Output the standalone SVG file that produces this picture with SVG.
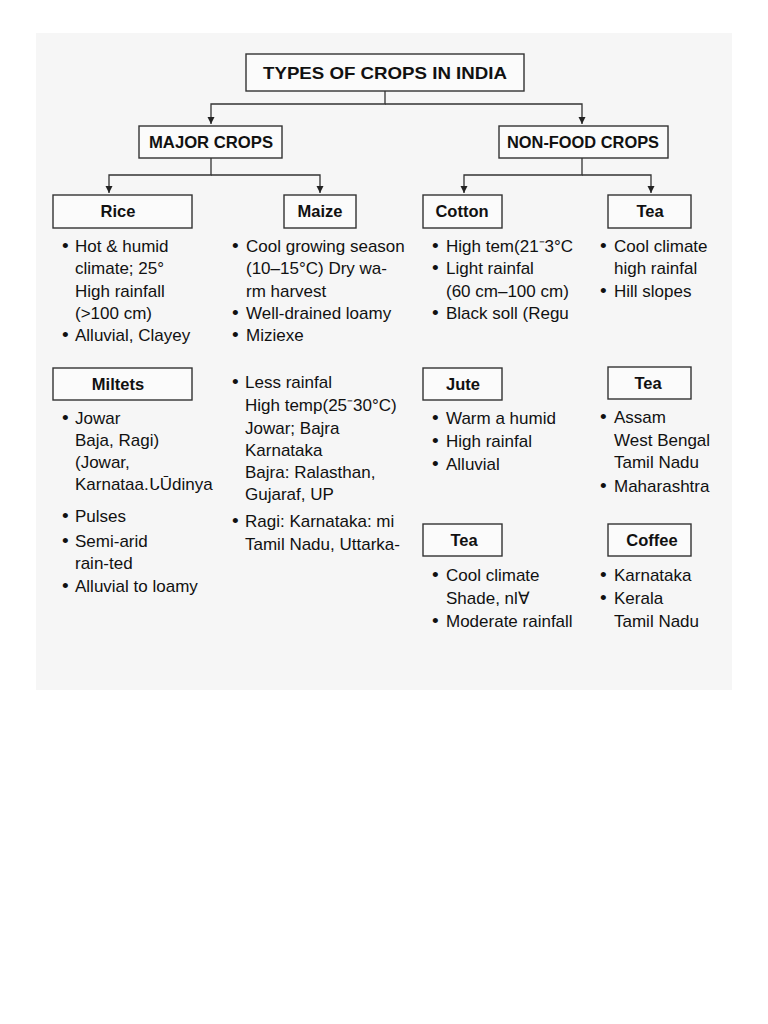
<svg xmlns="http://www.w3.org/2000/svg" width="768" height="1024" viewBox="0 0 768 1024">
<defs>
<marker id="arr" markerWidth="8" markerHeight="8" refX="7" refY="4" orient="auto" markerUnits="userSpaceOnUse">
<path d="M0,0.5 L7,4 L0,7.5 Z" fill="#222"/>
</marker>
<style>
.box{fill:#fbfbfb;stroke:#333;stroke-width:1.4}
.lbl{font-family:"Liberation Sans",Arial,sans-serif;font-weight:bold;font-size:16.5px;fill:#111;text-anchor:middle}
.t{font-family:"Liberation Sans",Arial,sans-serif;font-size:17px;fill:#111}
.b{font-size:19px}
.con{fill:none;stroke:#333;stroke-width:1.3}
</style>
</defs>
<rect x="0" y="0" width="768" height="1024" fill="#ffffff"/>
<rect x="36" y="33" width="696" height="657" fill="#f6f6f6"/>
<g id="connectors">
<path class="con" d="M385,91 V104 H211 V124" marker-end="url(#arr)"/>
<path class="con" d="M385,104 H582 V124" marker-end="url(#arr)"/>
<path class="con" d="M211,158 V175 H109 V193" marker-end="url(#arr)"/>
<path class="con" d="M211,175 H320 V193" marker-end="url(#arr)"/>
<path class="con" d="M582,158 V175 H464 V193" marker-end="url(#arr)"/>
<path class="con" d="M582,175 H651 V193" marker-end="url(#arr)"/>
</g>
<g id="title"><rect class="box" x="246" y="54" width="278" height="37"/><text class="lbl" x="385" y="79" font-size="17.5" textLength="244" lengthAdjust="spacingAndGlyphs">TYPES OF CROPS IN INDIA</text></g>
<g id="major"><rect class="box" x="139" y="126" width="143" height="32"/><text class="lbl" x="211" y="148" font-size="15.5" textLength="124" lengthAdjust="spacingAndGlyphs">MAJOR CROPS</text></g>
<g id="nonfood"><rect class="box" x="499" y="126" width="169" height="32"/><text class="lbl" x="583" y="148" font-size="15.5" textLength="152" lengthAdjust="spacingAndGlyphs">NON-FOOD CROPS</text></g>
<g id="rice"><rect class="box" x="53" y="195" width="139" height="33"/><text class="lbl" x="118" y="217">Rice</text>
<text class="t"><tspan class="b" x="62" y="252">•</tspan><tspan x="75" y="252">Hot &amp; humid</tspan><tspan x="75" y="274">climate; 25°</tspan><tspan x="75" y="297">High rainfall</tspan><tspan x="75" y="319">(&gt;100 cm)</tspan><tspan class="b" x="62" y="341">•</tspan><tspan x="75" y="341">Alluvial, Clayey</tspan></text></g>
<g id="maize"><rect class="box" x="284" y="195" width="72" height="33"/><text class="lbl" x="320" y="217">Maize</text>
<text class="t"><tspan class="b" x="232" y="252">•</tspan><tspan x="246" y="252">Cool growing season</tspan><tspan x="246" y="274">(10–15°C) Dry wa-</tspan><tspan x="246" y="297">rm harvest</tspan><tspan class="b" x="232" y="319">•</tspan><tspan x="246" y="319">Well-drained loamy</tspan><tspan class="b" x="232" y="341">•</tspan><tspan x="246" y="341">Miziexe</tspan></text></g>
<g id="cotton"><rect class="box" x="423" y="195" width="79" height="33"/><text class="lbl" x="462" y="217">Cotton</text>
<text class="t"><tspan class="b" x="432" y="252">•</tspan><tspan x="446" y="252">High tem(21⁻3°C</tspan><tspan class="b" x="432" y="274">•</tspan><tspan x="446" y="274">Light rainfal</tspan><tspan x="446" y="297">(60 cm–100 cm)</tspan><tspan class="b" x="432" y="319">•</tspan><tspan x="446" y="319">Black soll (Regu</tspan></text></g>
<g id="tea1"><rect class="box" x="608" y="195" width="83" height="33"/><text class="lbl" x="650" y="217">Tea</text>
<text class="t"><tspan class="b" x="600" y="252">•</tspan><tspan x="614" y="252">Cool climate</tspan><tspan x="614" y="274">high rainfal</tspan><tspan class="b" x="600" y="297">•</tspan><tspan x="614" y="297">Hill slopes</tspan></text></g>
<g id="millets"><rect class="box" x="53" y="368" width="139" height="32"/><text class="lbl" x="118" y="390">Miltets</text>
<text class="t"><tspan class="b" x="62" y="424">•</tspan><tspan x="75" y="424">Jowar</tspan><tspan x="75" y="446">Baja, Ragi)</tspan><tspan x="75" y="468">(Jowar,</tspan><tspan x="75" y="490">Karnataa.ᒐŪdinya</tspan><tspan class="b" x="62" y="522">•</tspan><tspan x="75" y="522">Pulses</tspan><tspan class="b" x="62" y="547">•</tspan><tspan x="75" y="547">Semi-arid</tspan><tspan x="75" y="569">rain-ted</tspan><tspan class="b" x="62" y="592">•</tspan><tspan x="75" y="592">Alluvial to loamy</tspan></text></g>
<g id="millets-notes">
<text class="t"><tspan class="b" x="232" y="388">•</tspan><tspan x="245" y="388">Less rainfal</tspan><tspan x="245" y="411">High temp(25⁻30°C)</tspan><tspan x="245" y="434">Jowar; Bajra</tspan><tspan x="245" y="456">Karnataka</tspan><tspan x="245" y="478">Bajra: Ralasthan,</tspan><tspan x="245" y="500">Gujaraf, UP</tspan><tspan class="b" x="232" y="527">•</tspan><tspan x="245" y="527">Ragi: Karnataka: mi</tspan><tspan x="245" y="550">Tamil Nadu, Uttarka-</tspan></text></g>
<g id="jute"><rect class="box" x="423" y="368" width="79" height="32"/><text class="lbl" x="463" y="390">Jute</text>
<text class="t"><tspan class="b" x="432" y="424">•</tspan><tspan x="446" y="424">Warm a humid</tspan><tspan class="b" x="432" y="447">•</tspan><tspan x="446" y="447">High rainfal</tspan><tspan class="b" x="432" y="470">•</tspan><tspan x="446" y="470">Alluvial</tspan></text></g>
<g id="tea2"><rect class="box" x="608" y="367" width="83" height="32"/><text class="lbl" x="648" y="389">Tea</text>
<text class="t"><tspan class="b" x="600" y="423">•</tspan><tspan x="614" y="423">Assam</tspan><tspan x="614" y="446">West Bengal</tspan><tspan x="614" y="468">Tamil Nadu</tspan><tspan class="b" x="600" y="492">•</tspan><tspan x="614" y="492">Maharashtra</tspan></text></g>
<g id="tea3"><rect class="box" x="423" y="524" width="79" height="32"/><text class="lbl" x="464" y="546">Tea</text>
<text class="t"><tspan class="b" x="432" y="581">•</tspan><tspan x="446" y="581">Cool climate</tspan><tspan x="446" y="604">Shade, nl∀</tspan><tspan class="b" x="432" y="627">•</tspan><tspan x="446" y="627">Moderate rainfall</tspan></text></g>
<g id="coffee"><rect class="box" x="608" y="524" width="83" height="32"/><text class="lbl" x="652" y="546">Coffee</text>
<text class="t"><tspan class="b" x="600" y="581">•</tspan><tspan x="614" y="581">Karnataka</tspan><tspan class="b" x="600" y="604">•</tspan><tspan x="614" y="604">Kerala</tspan><tspan x="614" y="627">Tamil Nadu</tspan></text></g>
</svg>
